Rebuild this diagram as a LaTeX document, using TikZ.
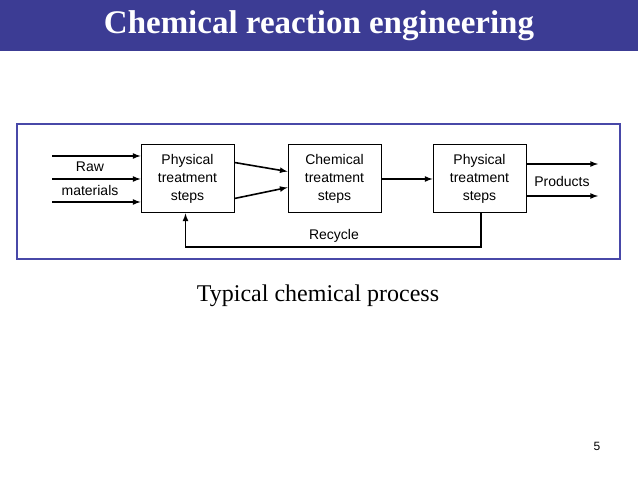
\documentclass[tikz,border=0pt]{standalone}
\usepackage{fontspec}
\setmainfont{Liberation Serif}
\newfontfamily\diagfont{Liberation Sans}
\usetikzlibrary{arrows, positioning}
\definecolor{bandblue}{HTML}{3C3C94}
\definecolor{frameblue}{HTML}{4848A8}
\tikzstyle{stepbox} = [rectangle, minimum width=93pt, minimum height=68pt, text centered, align=center, draw=black, line width=1pt, font=\diagfont\fontsize{14pt}{18pt}\selectfont]
\tikzstyle{lbl} = [font=\diagfont\fontsize{14pt}{16pt}\selectfont, inner sep=0pt]
\tikzstyle{arrow} = [line width=1.6pt,->,>=latex]

\begin{document}
\begin{tikzpicture}[x=1pt, y=-1pt]
    \useasboundingbox (0,0) rectangle (638,478);
    \fill[bandblue] (0,0) rectangle (638,51);
    \node (title) at (319,26) [text=white, font=\bfseries\fontsize{33pt}{36pt}\selectfont] {Chemical reaction engineering};
    \draw[frameblue, line width=2pt] (17,124) rectangle (620,259);
    \node (phys1) at (187.5,179) [stepbox] {Physical\\treatment\\steps};
    \node (chem) [stepbox, right=53pt of phys1] {Chemical\\treatment\\steps};
    \node (phys2) [stepbox, right=51pt of chem] {Physical\\treatment\\steps};
    % raw materials in
    \coordinate (in1) at (52,156);
    \coordinate (in2) at (52,179);
    \coordinate (in3) at (52,202);
    \draw [arrow] (in1) -- (in1 -| phys1.west);
    \draw [arrow] (in2) -- (in2 -| phys1.west);
    \draw [arrow] (in3) -- (in3 -| phys1.west);
    \node (raw) at (90,167) [lbl] {Raw};
    \node (mat) at (90,190) [lbl] {materials};
    % forward
    \draw [arrow] ([yshift=-18pt]phys1.north east) -- ([yshift=-27pt]chem.north west);
    \draw [arrow] ([yshift=15pt]phys1.south east) -- ([yshift=26pt]chem.south west);
    \draw [arrow] (chem) -- (phys2);
    % products out
    \coordinate (out1) at (598,164);
    \coordinate (out2) at (598,196);
    \draw [arrow] (out1 -| phys2.east) -- (out1);
    \draw [arrow] (out2 -| phys2.east) -- (out2);
    \node (prod) at (562,181) [lbl] {Products};
    % recycle
    \coordinate (rc) at (0,247);
    \draw [arrow] ([xshift=1.5pt]phys2.south) |- ([xshift=-2pt]rc -| phys1.south) -- ([xshift=-2pt]phys1.south);
    \node (rec) at (334,236) [lbl] {Recycle};
    \node (cap) at (318,296) [font=\fontsize{24pt}{27pt}\selectfont] {Typical chemical process};
    \node (pg) at (597,446) [font=\diagfont\fontsize{12pt}{14pt}\selectfont] {5};
\end{tikzpicture}
\end{document}
